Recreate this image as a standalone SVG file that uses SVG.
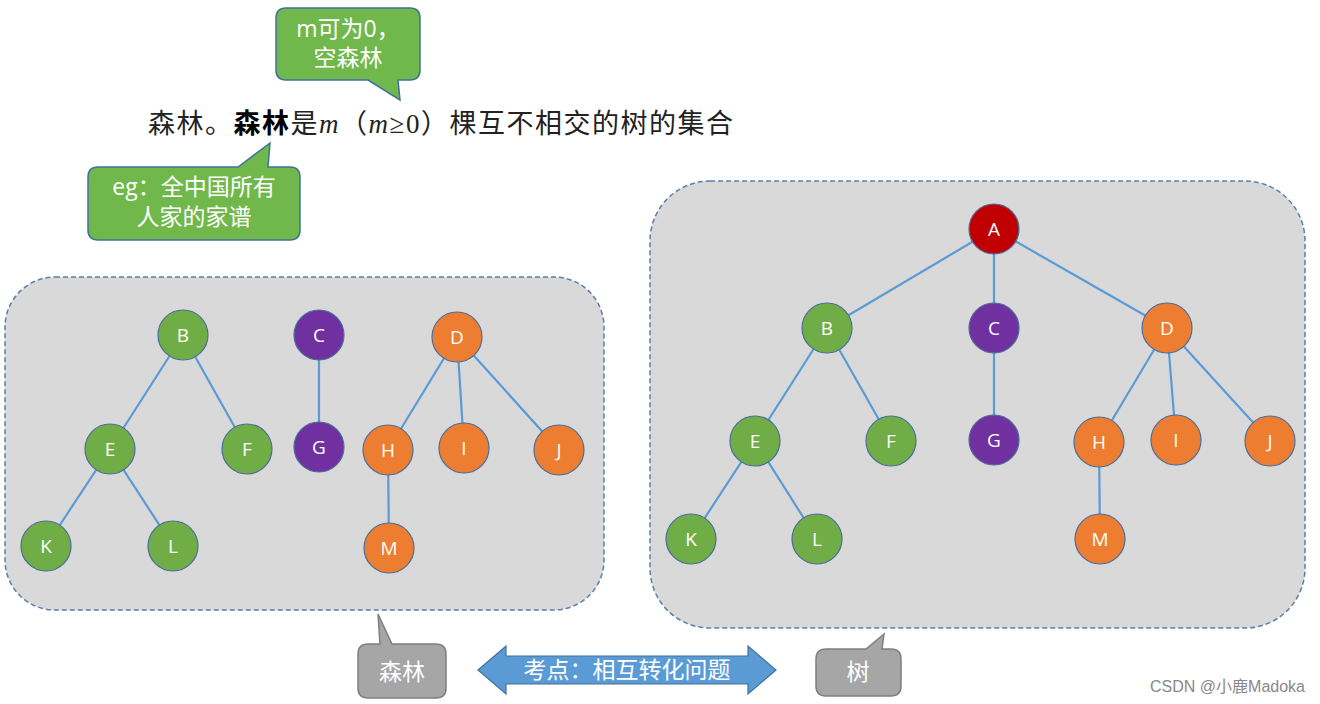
<svg xmlns="http://www.w3.org/2000/svg" width="1320" height="704" viewBox="0 0 1320 704">
<style>
.box{fill:#d9d9d9;stroke:#5a7fa8;stroke-width:1.5;stroke-dasharray:5,3}
.e{stroke:#5b9bd5;stroke-width:2.2;fill:none}
.n circle{stroke:#4a6e9b;stroke-width:1.2}
.g{fill:#70ad47}.p{fill:#7030a0}.o{fill:#ed7d31}.r{fill:#c00000}
.n text{font-family:"Open Sans","Liberation Sans",sans-serif;font-size:19px;fill:#fff;text-anchor:middle;dominant-baseline:central}
.cg{fill:#70b84c;stroke:#41719c;stroke-width:1.5}
.cy{fill:#a6a6a6;stroke:#7f7f7f;stroke-width:1.5}
.ct{font-family:"Open Sans","Noto Sans CJK SC",sans-serif;font-size:23px;fill:#fff;text-anchor:middle}
</style>
<rect width="1320" height="704" fill="#fff"/>
<rect class="box" x="5" y="277" width="599" height="333" rx="50"/>
<rect class="box" x="650" y="181" width="655" height="447" rx="60"/>
<g id="callout1"><path class="cg" d="M286,8 H410 Q420,8 420,18 V70 Q420,80 410,80 H398 L400,100 L368,80 H286 Q276,80 276,70 V18 Q276,8 286,8 Z"/>
<text class="ct" x="348" y="37">m可为0，</text><text class="ct" x="348" y="66">空森林</text></g>
<g id="callout2"><path class="cg" d="M98,167 H238 L270,143 L268,167 H290 Q300,167 300,177 V230 Q300,240 290,240 H98 Q88,240 88,230 V177 Q88,167 98,167 Z"/>
<text class="ct" x="194" y="195">eg：全中国所有</text><text class="ct" x="194" y="225">人家的家谱</text></g>
<text x="148" y="133" textLength="585" lengthAdjust="spacing" font-family="'Liberation Serif','Noto Sans CJK SC',serif" font-size="27" fill="#222">森林。<tspan font-family="'Noto Sans CJK SC',sans-serif" font-weight="600" fill="#000">森林</tspan>是<tspan font-style="italic">m</tspan>（<tspan font-style="italic">m</tspan>≥0）棵互不相交的树的集合</text>
<g id="connectors">
<path class="e" d="M183,335 L110,449 M183,335 L247,449 M110,449 L46,546 M110,449 L173,546 M319,335 L319,447 M457,337 L388,450 M457,337 L464,448 M457,337 L559,450 M388,450 L389,548"/>
<path class="e" d="M994,229 L827,328 M994,229 L994,328 M994,229 L1167,328 M827,328 L755,441 M827,328 L891,441 M755,441 L691,539 M755,441 L817,539 M994,328 L994,440 M1167,328 L1099,442 M1167,328 L1176,440 M1167,328 L1270,441 M1099,442 L1100,539"/>
</g>
<g class="n" id="fB"><circle class="g" cx="183" cy="335" r="25"/><text x="183" y="335">B</text></g>
<g class="n" id="fC"><circle class="p" cx="319" cy="335" r="25"/><text x="319" y="335">C</text></g>
<g class="n" id="fD"><circle class="o" cx="457" cy="337" r="25"/><text x="457" y="337">D</text></g>
<g class="n" id="fE"><circle class="g" cx="110" cy="449" r="25"/><text x="110" y="449">E</text></g>
<g class="n" id="fF"><circle class="g" cx="247" cy="449" r="25"/><text x="247" y="449">F</text></g>
<g class="n" id="fG"><circle class="p" cx="319" cy="447" r="25"/><text x="319" y="447">G</text></g>
<g class="n" id="fH"><circle class="o" cx="388" cy="450" r="25"/><text x="388" y="450">H</text></g>
<g class="n" id="fI"><circle class="o" cx="464" cy="448" r="25"/><text x="464" y="448">I</text></g>
<g class="n" id="fJ"><circle class="o" cx="559" cy="450" r="25"/><text x="559" y="450">J</text></g>
<g class="n" id="fK"><circle class="g" cx="46" cy="546" r="25"/><text x="46" y="546">K</text></g>
<g class="n" id="fL"><circle class="g" cx="173" cy="546" r="25"/><text x="173" y="546">L</text></g>
<g class="n" id="fM"><circle class="o" cx="389" cy="548" r="25"/><text x="389" y="548">M</text></g>
<g class="n" id="tA"><circle class="r" cx="994" cy="229" r="25"/><text x="994" y="229">A</text></g>
<g class="n" id="tB"><circle class="g" cx="827" cy="328" r="25"/><text x="827" y="328">B</text></g>
<g class="n" id="tC"><circle class="p" cx="994" cy="328" r="25"/><text x="994" y="328">C</text></g>
<g class="n" id="tD"><circle class="o" cx="1167" cy="328" r="25"/><text x="1167" y="328">D</text></g>
<g class="n" id="tE"><circle class="g" cx="755" cy="441" r="25"/><text x="755" y="441">E</text></g>
<g class="n" id="tF"><circle class="g" cx="891" cy="441" r="25"/><text x="891" y="441">F</text></g>
<g class="n" id="tG"><circle class="p" cx="994" cy="440" r="25"/><text x="994" y="440">G</text></g>
<g class="n" id="tH"><circle class="o" cx="1099" cy="442" r="25"/><text x="1099" y="442">H</text></g>
<g class="n" id="tI"><circle class="o" cx="1176" cy="440" r="25"/><text x="1176" y="440">I</text></g>
<g class="n" id="tJ"><circle class="o" cx="1270" cy="441" r="25"/><text x="1270" y="441">J</text></g>
<g class="n" id="tK"><circle class="g" cx="691" cy="539" r="25"/><text x="691" y="539">K</text></g>
<g class="n" id="tL"><circle class="g" cx="817" cy="539" r="25"/><text x="817" y="539">L</text></g>
<g class="n" id="tM"><circle class="o" cx="1100" cy="539" r="25"/><text x="1100" y="539">M</text></g>
<g id="label-forest"><path class="cy" d="M368,644 H380 L378,614 L392,644 H436 Q446,644 446,654 V688 Q446,698 436,698 H368 Q358,698 358,688 V654 Q358,644 368,644 Z"/>
<text class="ct" x="402" y="680">森林</text></g>
<g id="label-tree"><path class="cy" d="M826,649 H866 L884,634 L882,649 H891 Q901,649 901,659 V686 Q901,696 891,696 H826 Q816,696 816,686 V659 Q816,649 826,649 Z"/>
<text class="ct" x="858" y="680">树</text></g>
<g id="arrow"><path d="M478,670 L506,646 V656 H748 V646 L776,670 L748,694 V684 H506 V694 Z" fill="#5b9bd5" stroke="#41719c" stroke-width="1.2"/>
<text class="ct" x="627" y="678">考点：相互转化问题</text></g>
<text x="1305" y="692" text-anchor="end" font-family="'Liberation Sans','Noto Sans CJK SC',sans-serif" font-size="16" fill="#888">CSDN @小鹿Madoka</text>
</svg>
